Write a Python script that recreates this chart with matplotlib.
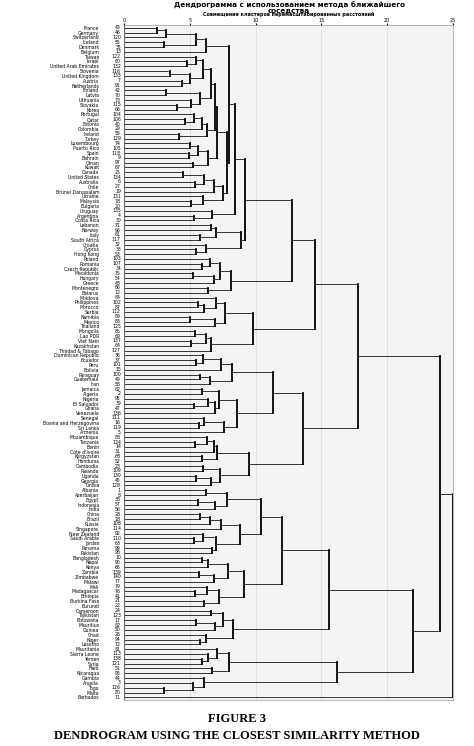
import matplotlib
matplotlib.use("Agg")
import matplotlib.pyplot as plt

title = "Дендрограмма с использованием метода ближайшего\nсоседства"
subtitle = "Совмещение кластеров перемасштабированных расстояний"
ticks = [0, 5, 10, 15, 20, 25]

names = ["France","Germany","Switzerland","Iceland","Denmark","Belgium","Taiwan","Israel",
"United Arab Emirates","Slovenia","United Kingdom","Austria","Netherlands","Finland","Latvia",
"Lithuania","Slovakia","Korea","Portugal","Qatar","Estonia","Colombia","Ireland","Turkey",
"Luxembourg","Puerto Rico","Spain","Bahrain","Oman","Kuwait","Canada","United States","Australia",
"Chile","Brunei Darussalam","Ukraine","Malaysia","Bulgaria","Uruguay","Argentina","Costa Rica",
"Lebanon","Norway","Italy","South Africa","Croatia","Cyprus","Hong Kong","Poland","Romania",
"Czech Republic","Macedonia","Hungary","Greece","Montenegro","Belarus","Moldova","Philippines",
"Morocco","Serbia","Namibia","Mexico","Thailand","Mongolia","Lao PDR","Viet Nam","Kazakhstan",
"Trinidad & Tobago","Dominican Republic","Ecuador","Peru","Bolivia","Paraguay","Guatemala","Iran",
"Jamaica","Algeria","Nigeria","El Salvador","Ghana","Venezuela","Senegal","Bosnia and Herzegovina",
"Sri Lanka","Armenia","Mozambique","Tanzania","Benin","Cote d'Ivoire","Kyrgyzstan","Honduras",
"Cambodia","Rwanda","Uganda","Georgia","Tunisia","Albania","Azerbaijan","Egypt","Indonesia",
"India","China","Brazil","Russia","Singapore","New Zealand","Saudi Arabia","Jordan","Panama",
"Pakistan","Bangladesh","Nepal","Kenya","Zambia","Zimbabwe","Malawi","Mali","Madagascar",
"Ethiopia","Burkina Faso","Burundi","Cameroon","Tajikistan","Botswana","Mauritius","Guinea",
"Chad","Niger","Lesotho","Mauritania","Sierra Leone","Yemen","Syria","Haiti","Nicaragua",
"Gambia","Angola","Togo","Malta","Barbados","Libya","Iraq","Sudan","Japan","Kosovo"]

# merge height (rescaled 0-25) between consecutive leaves
gaps = [2.5,3.2,5.5,3.0,6.2,8.0,5.5,4.8,6.0,3.5,5.0,4.4,6.6,3.2,5.8,5.1,4.0,6.9,5.3,4.6,
5.9,6.3,4.2,7.1,5.0,5.6,4.9,6.4,5.2,7.8,4.5,6.1,5.4,6.8,7.5,6.0,5.1,8.4,6.7,5.3,
9.2,6.6,7.0,5.8,8.9,6.2,5.5,12.8,6.5,5.9,7.3,5.2,6.8,8.1,6.4,14.5,7.0,5.6,6.1,7.7,
5.0,6.9,9.8,5.4,6.2,5.1,6.6,17.8,6.0,5.5,7.4,8.2,5.8,6.5,11.3,5.9,7.2,6.4,5.3,6.9,
8.6,6.1,5.7,7.6,13.6,6.3,5.4,6.8,7.1,5.9,9.5,6.0,7.3,5.5,6.6,24.0,6.2,7.8,5.6,6.9,
10.4,5.8,6.5,7.4,8.8,6.0,5.3,7.0,6.7,12.0,5.9,6.4,7.9,5.7,6.8,9.1,6.3,5.4,7.2,6.1,
15.6,6.6,7.5,5.5,6.9,8.3,6.2,5.8,22.0,7.1,6.4,5.9,8.0,6.7,16.2,6.1,5.2,3.0,25.0]

m = min(len(names), len(gaps) + 1)
names = names[:m]
gaps = gaps[:m - 1]
codes = {nm: i + 1 for i, nm in enumerate(sorted(names))}

fig = plt.figure(figsize=(4.74, 7.46), dpi=100)
ax = fig.add_axes([0.262, 0.062, 0.693, 0.904])
n = len(names)
ax.set_xlim(0, 25)
ax.set_ylim(n - 0.5, -0.5)
ax.set_facecolor("#f4f4f4")

lw = 0.7
def build(lo, hi):
    if lo == hi:
        return lo, 0.0
    seg = gaps[lo:hi]
    k = lo + max(range(len(seg)), key=lambda i: seg[i])
    h = gaps[k]
    y1, h1 = build(lo, k)
    y2, h2 = build(k + 1, hi)
    ax.plot([h1, h], [y1, y1], color="#333333", lw=lw)
    ax.plot([h2, h], [y2, y2], color="#333333", lw=lw)
    ax.plot([h, h], [y1, y2], color="black", lw=1.3)
    return (y1 + y2) / 2, h

build(0, n - 1)

for x in ticks[1:-1]:
    ax.axvline(x, color="#dddddd", lw=0.6, zorder=0)
ax.axvline(0, color="black", lw=1.5)
ax.xaxis.tick_top()
ax.set_xticks(ticks)
ax.set_xticklabels([str(t) for t in ticks], fontsize=3.5)
ax.tick_params(axis="x", length=1.5, pad=0.3)
ax.set_yticks(range(n))
ax.set_yticklabels(names, fontsize=3.3)
ax.tick_params(axis="y", length=0, pad=18)
for i, nm in enumerate(names):
    ax.text(-0.25, i, str(codes[nm]), fontsize=3.3, ha="right", va="center")
for s in ax.spines.values():
    s.set_color("#999999"); s.set_linewidth(0.5)

fig.text(0.61, 0.9985, title.split("\n")[0], ha="center", va="top", fontsize=5.2, fontweight="bold")
fig.text(0.61, 0.9905, title.split("\n")[1], ha="center", va="top", fontsize=5.2, fontweight="bold")
fig.text(0.61, 0.9805, subtitle, ha="center", va="center", fontsize=3.5, fontweight="bold")

fig.text(0.5, 0.036, "FIGURE 3", ha="center", va="center", fontsize=9, fontweight="bold", family="Liberation Serif")
fig.text(0.5, 0.013, "DENDROGRAM USING THE CLOSEST SIMILARITY METHOD", ha="center", va="center",
         fontsize=9, fontweight="bold", family="Liberation Serif")
fig.savefig("out.png", dpi=100)
